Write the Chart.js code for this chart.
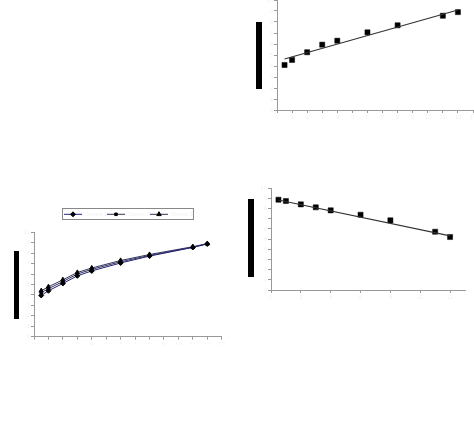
<!DOCTYPE html>
<html>
<head>
<meta charset="utf-8">
<script src="https://cdn.jsdelivr.net/npm/chart.js@4.4.1/dist/chart.umd.min.js"></script>
<style>
  body { margin: 0; background: #fff; width: 474px; height: 434px; position: relative; overflow: hidden; }
  canvas { position: absolute; }
  .ytitle { position: absolute; background: #000; }
</style>
</head>
<body>
<div class="ytitle" style="left:256px;top:22px;width:6px;height:67px"></div>
<div class="ytitle" style="left:14px;top:251px;width:5px;height:68px"></div>
<div class="ytitle" style="left:248px;top:199px;width:6px;height:78px"></div>
<canvas id="rise" width="224" height="125" style="left:250px;top:0px"></canvas>
<canvas id="curves" width="230" height="145" style="left:0px;top:200px"></canvas>
<canvas id="fall" width="234" height="120" style="left:240px;top:180px"></canvas>
<script>
// sampling times, shared by all three panels
const sampleX = [0.5, 1, 2, 3, 4, 6, 8, 11, 12];

// top right panel: rising points + fitted line (ends)
const risingY = [4.09, 4.55, 5.25, 5.94, 6.30, 7.06, 7.70, 8.57, 8.90];
const risingFitX = [0.5, 12];
const risingFitY = [4.64, 9.09];

// bottom left panel: three close curves
const seriesNames = ['Series 1', 'Series 2', 'Series 3'];
const seriesA = [3.95, 4.40, 5.10, 5.83, 6.30, 7.06, 7.72, 8.55, 8.88];
const seriesB = [4.22, 4.60, 5.28, 6.00, 6.45, 7.18, 7.78, 8.58, 8.90];
const seriesC = [4.40, 4.78, 5.45, 6.15, 6.58, 7.30, 7.87, 8.62, 8.92];

// bottom right panel: falling points + fitted line
const fallingY = [8.88, 8.75, 8.42, 8.13, 7.83, 7.40, 6.85, 5.73, 5.21];
const fallingFitX = [0.5, 12];
const fallingFitY = [8.85, 5.33];

// axis ranges
const xMax = 13, yMax = 10;

const pts = (xs, ys) => xs.map((x, i) => ({ x, y: ys[i] }));

function axis(pos, max, step, size) {
  return {
    type: 'linear', position: pos, min: 0, max,
    ticks: { stepSize: step, includeBounds: false, autoSkip: false, maxRotation: 0,
             color: '#f2f2f2', font: { size: 6, family: 'Arial' }, padding: 1 },
    grid: { drawOnChartArea: false, drawTicks: true, tickLength: 3, color: '#999' },
    border: { display: true, color: '#999', width: 1 },
    afterFit: s => {
      if (pos === 'left') { s.width = size; s.paddingTop = 0; s.paddingBottom = 0; }
      else { s.height = size; s.paddingLeft = 0; s.paddingRight = 0; }
    }
  };
}

const baseOpts = (pad, yW, xH, xStep) => ({
  responsive: false, animation: false,
  layout: { padding: pad, autoPadding: false },
  plugins: { legend: { display: false }, tooltip: { enabled: false } },
  scales: { x: axis('bottom', xMax, xStep, xH), y: axis('left', yMax, 1, yW) }
});

function scatterFit(id, ys, fitX, fitY, pad, yW, xH, xStep) {
  new Chart(document.getElementById(id), {
    type: 'scatter',
    data: {
      datasets: [
        { data: pts(fitX, fitY), showLine: true, borderColor: '#333', borderWidth: 1.2, pointRadius: 0 },
        { data: pts(sampleX, ys), pointStyle: 'rect', pointRadius: 3.6, backgroundColor: '#000', borderColor: '#000', borderWidth: 0.5 }
      ]
    },
    options: baseOpts(pad, yW, xH, xStep)
  });
}

scatterFit('rise', risingY, risingFitX, risingFitY, { top: 0, right: 1, left: 0, bottom: 0 }, 27, 15, 1);
scatterFit('fall', fallingY, fallingFitX, fallingFitY, { top: 8.3, right: 9, left: 0, bottom: 0 }, 31, 10, 2);

// legend with border box, drawn like the spreadsheet one
const boxLegend = {
  id: 'boxLegend',
  afterDraw(chart) {
    const ctx = chart.ctx;
    ctx.save();
    ctx.strokeStyle = '#888';
    ctx.lineWidth = 1;
    ctx.strokeRect(62.5, 8.5, 131, 11);
    const starts = [64, 107, 150];
    chart.data.datasets.forEach((ds, i) => {
      const x0 = starts[i], yc = 14.3;
      ctx.strokeStyle = ds.borderColor;
      ctx.lineWidth = 1;
      ctx.beginPath(); ctx.moveTo(x0, yc); ctx.lineTo(x0 + 18, yc); ctx.stroke();
      ctx.fillStyle = '#000';
      ctx.strokeStyle = '#000';
      Chart.helpers.drawPoint(ctx, { pointStyle: ds.pointStyle, radius: ds.pointRadius, borderWidth: 1 }, x0 + 9, yc);
      ctx.fillStyle = '#f2f2f2';
      ctx.font = '6px Arial';
      ctx.textBaseline = 'middle';
      ctx.fillText(ds.label, x0 + 21, yc);
    });
    ctx.restore();
  }
};

const lineSet = (label, ys, color, style, r) => ({
  label, data: pts(sampleX, ys), showLine: true, borderColor: color, borderWidth: 1,
  pointStyle: style, pointRadius: r, backgroundColor: '#000', pointBorderColor: '#000', pointBackgroundColor: '#000'
});

new Chart(document.getElementById('curves'), {
  type: 'scatter',
  data: {
    datasets: [
      lineSet(seriesNames[0], seriesA, '#23237a', 'rectRot', 2.5),
      lineSet(seriesNames[1], seriesB, '#34345a', 'rect', 1.8),
      lineSet(seriesNames[2], seriesC, '#34345a', 'triangle', 2.6)
    ]
  },
  options: baseOpts({ top: 32.3, right: 8.3, left: 0, bottom: 0 }, 34, 8.3, 1),
  plugins: [boxLegend]
});
</script>
</body>
</html>
